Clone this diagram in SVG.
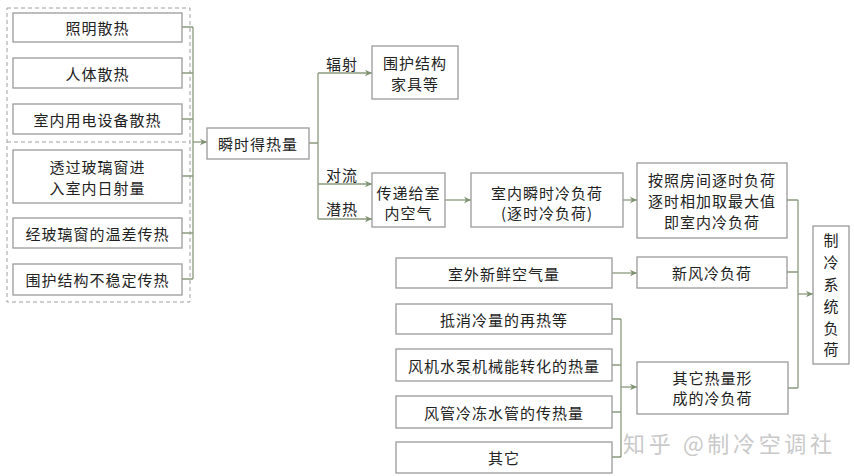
<svg xmlns="http://www.w3.org/2000/svg" width="854" height="476" viewBox="0 0 854 476">
<defs>
<marker id="arr" markerWidth="8" markerHeight="8" refX="7" refY="4" orient="auto" markerUnits="userSpaceOnUse">
<path d="M0,0.8 L7,4 L0,7.2 L2,4 Z" fill="#7f9270"/>
</marker>
<style>
.box{fill:#fff;stroke:#9a9a9a;stroke-width:1.3}
.t{font-family:"Noto Sans CJK SC","Liberation Sans",sans-serif;font-size:15px;fill:#222;text-anchor:middle;dominant-baseline:central;letter-spacing:1px}
.lbl{font-family:"Noto Sans CJK SC","Liberation Sans",sans-serif;font-size:15px;fill:#222;dominant-baseline:central;letter-spacing:1px}
.c{fill:none;stroke:#8a9a7c;stroke-width:1.3}
.a{fill:none;stroke:#8a9a7c;stroke-width:1.3;marker-end:url(#arr)}
.dash{fill:none;stroke:#a0a0a0;stroke-width:1;stroke-dasharray:4,3}
</style>
</defs>
<rect width="854" height="476" fill="#fff"/>
<g id="group-dashed">
<rect class="dash" x="7" y="8" width="183" height="294"/>
<line class="dash" x1="7" y1="142" x2="190" y2="142"/>
</g>
<g id="connectors">
<path class="c" d="M182,27 H193 M182,73 H193 M182,119 H193 M182,176 H193 M182,233 H193 M182,279 H193 M193,27 V279"/>
<path class="a" d="M193,142 H207"/>
<path class="c" d="M309,143 H318 M318,73 V219"/>
<path class="a" d="M318,73 H372"/>
<path class="a" d="M318,184 H372"/>
<path class="a" d="M318,219 H372"/>
<path class="a" d="M445,200 H471"/>
<path class="a" d="M623,200 H637"/>
<path class="a" d="M612,273 H637"/>
<path class="c" d="M612,319 H621 M612,365 H621 M612,412 H621 M612,457 H621 M621,319 V457"/>
<path class="a" d="M621,387 H637"/>
<path class="c" d="M787,200 H798 M787,272 H798 M788,388 H798 M798,200 V388"/>
<path class="a" d="M798,294 H813"/>
</g>
<g id="n1"><rect class="box" x="13" y="13" width="169" height="29"/><text class="t" x="97.5" y="27.5">照明散热</text></g>
<g id="n2"><rect class="box" x="13" y="58" width="169" height="30"/><text class="t" x="97.5" y="73">人体散热</text></g>
<g id="n3"><rect class="box" x="13" y="104" width="169" height="30"/><text class="t" x="97.5" y="119">室内用电设备散热</text></g>
<g id="n4"><rect class="box" x="13" y="150" width="169" height="53"/><text class="t" x="97.5" y="166">透过玻璃窗进</text><text class="t" x="97.5" y="187">入室内日射量</text></g>
<g id="n5"><rect class="box" x="13" y="218" width="169" height="30"/><text class="t" x="97.5" y="233">经玻璃窗的温差传热</text></g>
<g id="n6"><rect class="box" x="13" y="264" width="169" height="31"/><text class="t" x="97.5" y="279.5">围护结构不稳定传热</text></g>
<g id="n7"><rect class="box" x="207" y="128" width="102" height="31"/><text class="t" x="258" y="143.5">瞬时得热量</text></g>
<g id="labels">
<text class="lbl" x="326" y="63">辐射</text>
<text class="lbl" x="326" y="174">对流</text>
<text class="lbl" x="326" y="208">潜热</text>
</g>
<g id="n8"><rect class="box" x="372" y="46" width="86" height="53"/><text class="t" x="415" y="62">围护结构</text><text class="t" x="415" y="83">家具等</text></g>
<g id="n9"><rect class="box" x="372" y="173" width="73" height="54"/><text class="t" x="408.5" y="192">传递给室</text><text class="t" x="408.5" y="212">内空气</text></g>
<g id="n10"><rect class="box" x="471" y="173" width="152" height="54"/><text class="t" x="547" y="192">室内瞬时冷负荷</text><text class="t" x="547" y="212">(逐时冷负荷)</text></g>
<g id="n11"><rect class="box" x="637" y="163" width="150" height="75"/><text class="t" x="712" y="179">按照房间逐时负荷</text><text class="t" x="712" y="200">逐时相加取最大值</text><text class="t" x="712" y="221">即室内冷负荷</text></g>
<g id="n12"><rect class="box" x="396" y="258" width="216" height="30"/><text class="t" x="504" y="273">室外新鲜空气量</text></g>
<g id="n13"><rect class="box" x="637" y="257" width="150" height="31"/><text class="t" x="712" y="272.5">新风冷负荷</text></g>
<g id="n14"><rect class="box" x="396" y="304" width="216" height="30"/><text class="t" x="504" y="319">抵消冷量的再热等</text></g>
<g id="n15"><rect class="box" x="396" y="349" width="216" height="32"/><text class="t" x="504" y="365">风机水泵机械能转化的热量</text></g>
<g id="n16"><rect class="box" x="396" y="396" width="216" height="32"/><text class="t" x="504" y="412">风管冷冻水管的传热量</text></g>
<g id="n17"><rect class="box" x="396" y="442" width="216" height="31"/><text class="t" x="504" y="457.5">其它</text></g>
<g id="n18"><rect class="box" x="637" y="362" width="151" height="52"/><text class="t" x="712.5" y="377">其它热量形</text><text class="t" x="712.5" y="397">成的冷负荷</text></g>
<g id="n19"><rect class="box" x="813" y="226" width="36" height="138"/>
<text class="t" x="831" y="239" style="letter-spacing:0">制</text>
<text class="t" x="831" y="261" style="letter-spacing:0">冷</text>
<text class="t" x="831" y="283" style="letter-spacing:0">系</text>
<text class="t" x="831" y="305" style="letter-spacing:0">统</text>
<text class="t" x="831" y="327" style="letter-spacing:0">负</text>
<text class="t" x="831" y="348" style="letter-spacing:0">荷</text>
</g>
<g id="watermark"><text x="623" y="442" textLength="209" style="font-family:'Noto Sans CJK SC','Liberation Sans',sans-serif;font-size:22px;fill:#c9c9c9;dominant-baseline:central">知乎 @制冷空调社</text></g>
</svg>
